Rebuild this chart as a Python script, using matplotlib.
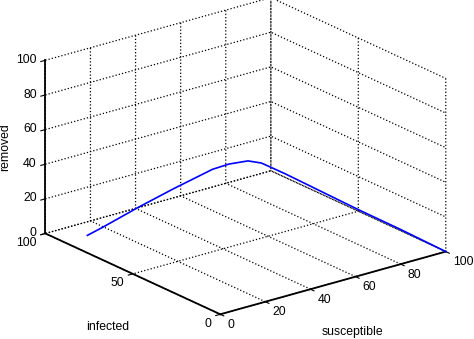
import matplotlib
matplotlib.use('Agg')
import matplotlib.pyplot as plt

# SIR trajectory
susceptible = [100, 80, 62, 44, 29, 19, 15, 12, 10.5, 10, 10, 10.5, 10.5]
infected = [0, 0, 0.5, 0.5, 0.5, 1, 3.5, 10.5, 18, 40, 60, 81, 89.5]
removed = [0, 20, 37.5, 55.5, 70.5, 80, 81.5, 77.5, 71.5, 50, 30, 8.5, 0]

s_ticks = [0, 20, 40, 60, 80, 100]
i_ticks = [0, 50, 100]
r_ticks = [0, 20, 40, 60, 80, 100]

plt.rcParams['font.family'] = 'Liberation Sans'
plt.rcParams['font.size'] = 8.8

fig = plt.figure(figsize=(4.74, 3.39), dpi=100)
ax = fig.add_axes([0.0084, 0.0265, 1, 1], projection='3d', proj_type='ortho')
ax.plot(susceptible, infected, removed, color='#0000ff', lw=1.2, clip_on=False)

ax.set_xlim(0, 100)
ax.set_ylim(0, 100)
ax.set_zlim(0, 100)
ax.set_xticks(s_ticks)
ax.set_yticks(i_ticks)
ax.set_zticks(r_ticks)
ax.view_init(elev=21.0, azim=-127.8)
ax.set_box_aspect((1, 1, 0.65), zoom=1.272)

for axis in (ax.xaxis, ax.yaxis, ax.zaxis):
    axis.pane.fill = False
    axis.pane.set_edgecolor((1, 1, 1, 0))
    axis.line.set_color('k')
    axis.line.set_linewidth(1.3)
    axis._axinfo['grid'].update(color='k', linestyle=':', linewidth=0.9)
    axis._axinfo['tick'].update(inward_factor=0.25, outward_factor=0.0)

ax.tick_params(axis='x', pad=-2.8)
ax.tick_params(axis='y', pad=-3)
ax.tick_params(axis='z', pad=-5.3)
for t in ax.get_xticklabels():
    t.set_ha('left')
    t.set_va('center')
for t in ax.get_yticklabels():
    t.set_ha('right')
    t.set_va('center')
for t in ax.get_zticklabels():
    t.set_ha('right')
    t.set_va('center')

# axis titles, placed like the MATLAB figure
fig.text(0.7426, 0.0206, 'susceptible', ha='center', va='center')
fig.text(0.2278, 0.0354, 'infected', ha='center', va='center')
fig.text(0.0105, 0.566, 'removed', ha='center', va='center', rotation=90)

fig.savefig('out.png', dpi=100)
